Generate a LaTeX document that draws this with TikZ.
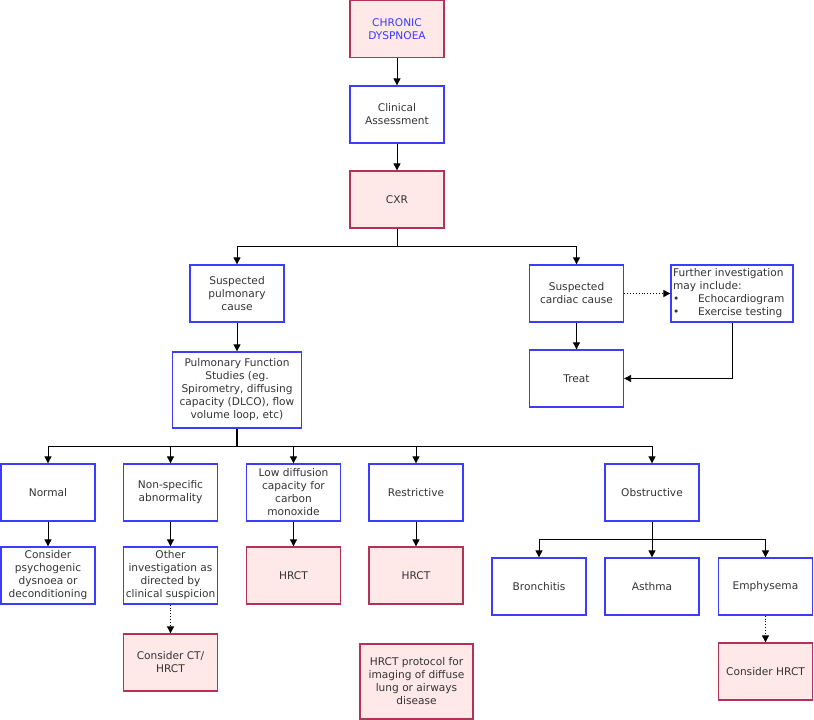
\documentclass[tikz,border=0pt]{standalone}
\usepackage{fontspec}
\setmainfont{DejaVu Sans}
\usepackage{tikz}
\usetikzlibrary{arrows.meta,positioning,calc}
\usepackage{xcolor}
\tikzset{>={Triangle[length=7pt,width=7pt]}}
\definecolor{boxblue}{RGB}{60,60,255}
\definecolor{keyred}{RGB}{180,50,85}
\definecolor{keyfill}{RGB}{255,232,232}
\definecolor{textgrey}{RGB}{51,51,51}

\begin{document}
\begin{tikzpicture}[x=1pt,y=-1pt,
  every node/.style={font=\fontsize{10.6}{13}\selectfont, text=textgrey, align=center, inner sep=2pt},
  stepbox/.style={draw=boxblue, line width=1.3pt, minimum width=94pt, minimum height=57pt},
  keybox/.style={draw=keyred, fill=keyfill, line width=1.3pt, minimum width=94pt, minimum height=57pt},
  link/.style={->, line width=0.9pt},
  maybe/.style={->, line width=0.9pt, dotted}]
\useasboundingbox (0,0) rectangle (814,720);

% top of the chart
\node[keybox, text=boxblue] (chronic) at (397,29) {CHRONIC\\DYSPNOEA};
\node[stepbox] (clinical) at (397,114.5) {Clinical\\Assessment};
\node[keybox] (cxr) at (397,199.5) {CXR};
\node[stepbox] (pulm) at (237,293.5) {Suspected\\pulmonary\\cause};
\node[stepbox] (cardiac) at (576.5,293.5) {Suspected\\cardiac cause};
\node[stepbox, minimum width=122pt, text width=118pt, align=left] (further) at (732,293.5)
  {Further investigation\\may include:\\\makebox[25pt][l]{•}Echocardiogram\\\makebox[25pt][l]{•}Exercise testing};
\node[stepbox] (treat) at (576.5,378.5) {Treat};
\node[stepbox, minimum width=129pt, minimum height=76pt] (pfs) at (237,390)
  {Pulmonary Function\\Studies (eg.\\Spirometry, diffusing\\capacity (DLCO), flow\\volume loop, etc)};

% results of the function studies
\node[stepbox] (normal) at (48,492.5) {Normal};
\node[stepbox] (nonspec) at (170.5,492.5) {Non-specific\\abnormality};
\node[stepbox] (lowdiff) at (293.5,492.5) {Low diffusion\\capacity for\\carbon\\monoxide};
\node[stepbox] (restr) at (416,492.5) {Restrictive};
\node[stepbox] (obstr) at (652,492.5) {Obstructive};

\node[stepbox] (psych) at (48,575.5) {Consider\\psychogenic\\dysnoea or\\deconditioning};
\node[stepbox] (other) at (170.5,575.5) {Other\\investigation as\\directed by\\clinical suspicion};
\node[keybox] (hrcta) at (293.5,575.5) {HRCT};
\node[keybox] (hrctb) at (416,575.5) {HRCT};
\node[keybox] (cthrct) at (170.5,662.5) {Consider CT/\\HRCT};
\node[keybox, minimum width=113pt, minimum height=75pt] (protocol) at (416.5,681.5)
  {HRCT protocol for\\imaging of diffuse\\lung or airways\\disease};

\node[stepbox] (bronch) at (539,586.5) {Bronchitis};
\node[stepbox] (asthma) at (652,586.5) {Asthma};
\node[stepbox] (emph) at (765.5,586.5) {Emphysema};
\node[keybox] (conshrct) at (765.5,671.5) {Consider HRCT};

% connectors
\coordinate (cxrsplit) at (397,246);
\coordinate (pfssplit) at (237,446);
\coordinate (obsplit) at (652,539);

\draw[link] (chronic) -- (clinical);
\draw[link] (clinical) -- (cxr);
\draw[line width=0.9pt] (cxr) -- (cxrsplit);
\foreach \n in {pulm,cardiac}
  \draw[link] (cxrsplit) -| (\n);
\draw[maybe] (cardiac) -- (further);
\draw[link] (cardiac) -- (treat);
\draw[link] (further.south) |- (treat.east);
\draw[link] (pulm) -- (pfs);
\draw[line width=1.3pt] (pfs) -- (pfssplit);
\foreach \n in {normal,nonspec,lowdiff,restr,obstr}
  \draw[link] (pfssplit) -| (\n);
\foreach \a/\b in {normal/psych, nonspec/other, lowdiff/hrcta, restr/hrctb}
  \draw[link] (\a) -- (\b);
\draw[maybe] (other) -- (cthrct);
\draw[line width=0.9pt] (obstr) -- (obsplit);
\foreach \n in {bronch,asthma,emph}
  \draw[link] (obsplit) -| (\n);
\draw[maybe] (emph) -- (conshrct);
\end{tikzpicture}
\end{document}
